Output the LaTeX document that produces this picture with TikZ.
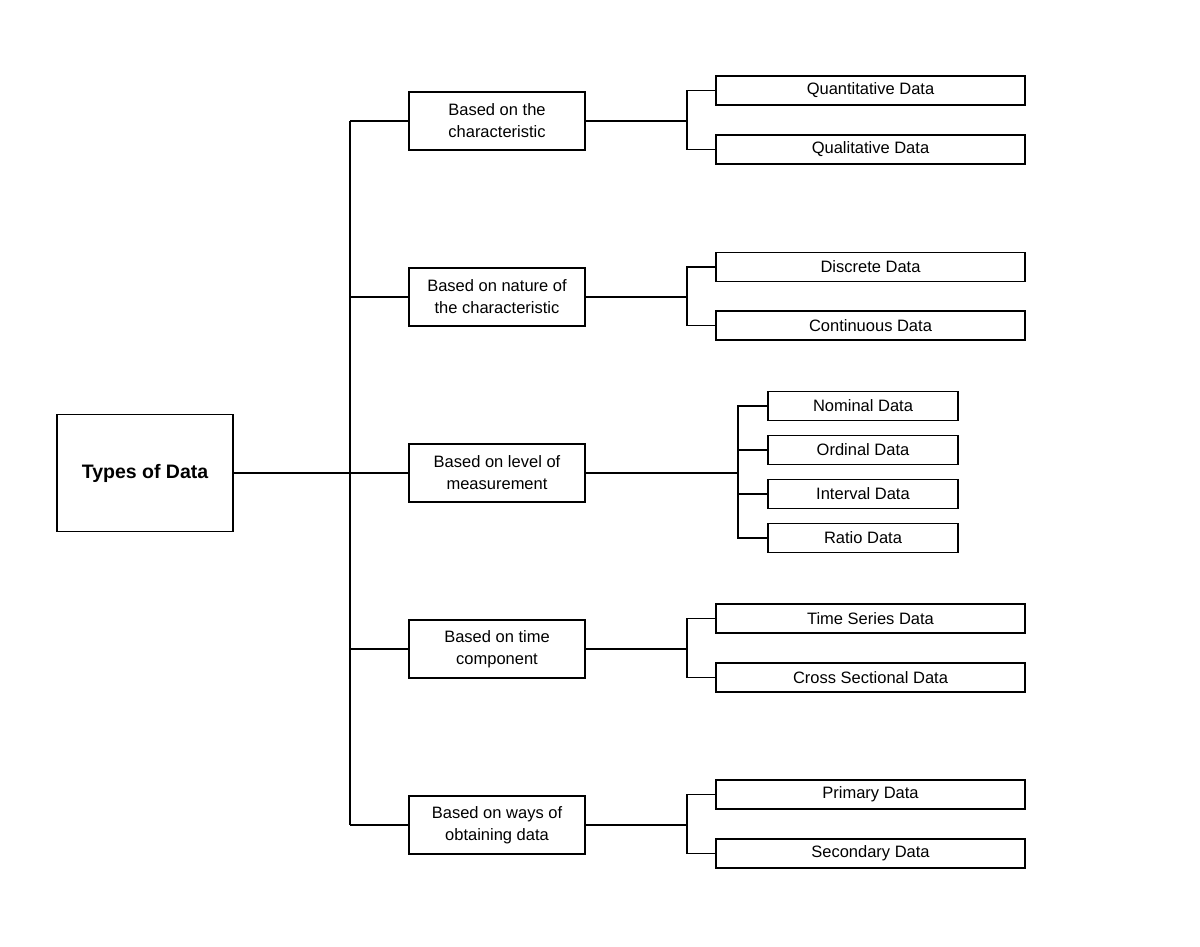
\documentclass[tikz,border=0pt]{standalone}
\usepackage{fontspec}
\setmainfont{Liberation Sans}
\begin{document}
\begin{tikzpicture}[x=1pt,y=-1pt, line width=1.8pt,
 box/.style={draw, line width=1.8pt, inner sep=0pt, align=center, font=\fontsize{16.5}{22}\selectfont},
 rootbox/.style={box, minimum width=176pt, minimum height=117pt, font=\bfseries\fontsize{19.5}{24}\selectfont},
 mid/.style={box, minimum width=176pt, minimum height=58pt},
 leaf/.style={box, minimum width=309pt, minimum height=29pt},
 lvl/.style={box, minimum width=190pt, minimum height=29pt}]
\useasboundingbox (0,0) rectangle (1200,946);
\node[rootbox] (root) at (145,473) {Types of Data};
\node[mid] (m1) at (497,121) {Based on the\\characteristic};
\node[mid] (m2) at (497,297) {Based on nature of\\the characteristic};
\node[mid] (m3) at (497,473) {Based on level of\\measurement};
\node[mid] (m4) at (497,649) {Based on time\\component};
\node[mid] (m5) at (497,825) {Based on ways of\\obtaining data};
\node[leaf] (a1) at (870.5,90.5) {Quantitative Data};
\node[leaf] (a2) at (870.5,149.5) {Qualitative Data};
\node[leaf] (b1) at (870.5,267) {Discrete Data};
\node[leaf] (b2) at (870.5,325.5) {Continuous Data};
\node[lvl] (c1) at (863,406) {Nominal Data};
\node[lvl] (c2) at (863,450) {Ordinal Data};
\node[lvl] (c3) at (863,494) {Interval Data};
\node[lvl] (c4) at (863,538) {Ratio Data};
\node[leaf] (d1) at (870.5,618.5) {Time Series Data};
\node[leaf] (d2) at (870.5,677.5) {Cross Sectional Data};
\node[leaf] (e1) at (870.5,794.5) {Primary Data};
\node[leaf] (e2) at (870.5,853.5) {Secondary Data};
\coordinate (tx) at (350,0);
\coordinate (bx) at (687,0);
\coordinate (lx) at (738,0);
% trunk
\draw (root.east) -- (m3.west);
\draw (m1.west -| tx) -- (m5.west -| tx);
\foreach \i in {1,2,4,5} \draw (m\i.west) -- (m\i.west -| tx);
% pairs
\foreach \m/\p in {m1/a, m2/b, m4/d, m5/e} {
  \draw (\m.east) -- (\m.east -| bx);
  \draw (\p1.west) -- (\p1.west -| bx) -- (\p2.west -| bx) -- (\p2.west);
}
% level of measurement
\draw (m3.east) -- (m3.east -| lx);
\draw (c1.west) -- (c1.west -| lx) -- (c4.west -| lx) -- (c4.west);
\draw (c2.west) -- (c2.west -| lx);
\draw (c3.west) -- (c3.west -| lx);
\end{tikzpicture}
\end{document}
